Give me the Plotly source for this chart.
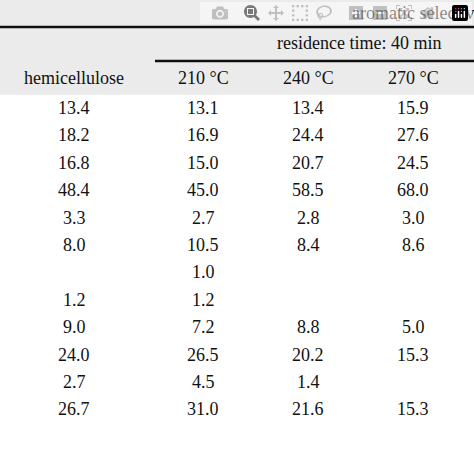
import plotly.graph_objects as go

col_headers = ["hemicellulose", "210 °C", "240 °C", "270 °C"]
hemicellulose = ["13.4", "18.2", "16.8", "48.4", "3.3", "8.0", "", "1.2", "9.0", "24.0", "2.7", "26.7"]
t210 = ["13.1", "16.9", "15.0", "45.0", "2.7", "10.5", "1.0", "1.2", "7.2", "26.5", "4.5", "31.0"]
t240 = ["13.4", "24.4", "20.7", "58.5", "2.8", "8.4", "", "", "8.8", "20.2", "1.4", "21.6"]
t270 = ["15.9", "27.6", "24.5", "68.0", "3.0", "8.6", "", "", "5.0", "15.3", "", "15.3"]
columns = [hemicellulose, t210, t240, t270]
col_x = [74, 203, 308, 413]
row_y0, row_dy = 108, 27.4

FONT = dict(family="Liberation Serif", size=18, color="#111")
fig = go.Figure()
shapes = [
    dict(type="rect", x0=0, x1=474, y0=0, y1=95, fillcolor="#ebebeb", line_width=0, layer="below"),
    dict(type="line", x0=0, x1=474, y0=27, y1=27, line=dict(color="#111", width=2.5)),
    dict(type="line", x0=155, x1=474, y0=61, y1=61, line=dict(color="#111", width=2.5)),
]
ann = [
    dict(x=350, y=13, text="aromatic selectivity", xanchor="left"),
    dict(x=359, y=43, text="residence time: 40 min"),
]
for h, x in zip(col_headers, col_x):
    ann.append(dict(x=x, y=78, text=h))
for col, x in zip(columns, col_x):
    for i, v in enumerate(col):
        if v:
            ann.append(dict(x=x, y=row_y0 + i * row_dy, text=v))
ann.append(dict(x=-9, y=463, text="nes, anthracenes, and phenanthrenes.", xanchor="left"))
for a in ann:
    a.setdefault("xanchor", "center")
    a.update(yanchor="middle", showarrow=False, font=FONT, xref="x", yref="y")
fig.update_layout(
    width=474, height=474, margin=dict(l=0, r=0, t=0, b=0),
    plot_bgcolor="white", paper_bgcolor="white", shapes=shapes, annotations=ann,
    xaxis=dict(range=[0, 474], visible=False),
    yaxis=dict(range=[474, 0], visible=False),
)
fig.add_trace(go.Scatter(x=[None], y=[None], showlegend=False))
fig.write_html("out.html")
with open("out.html", encoding="utf-8") as f:
    html = f.read()
html = html.replace("<head>", "<head><style>html,body{margin:0;padding:0;overflow:hidden}</style>", 1)
with open("out.html", "w", encoding="utf-8") as f:
    f.write(html)
